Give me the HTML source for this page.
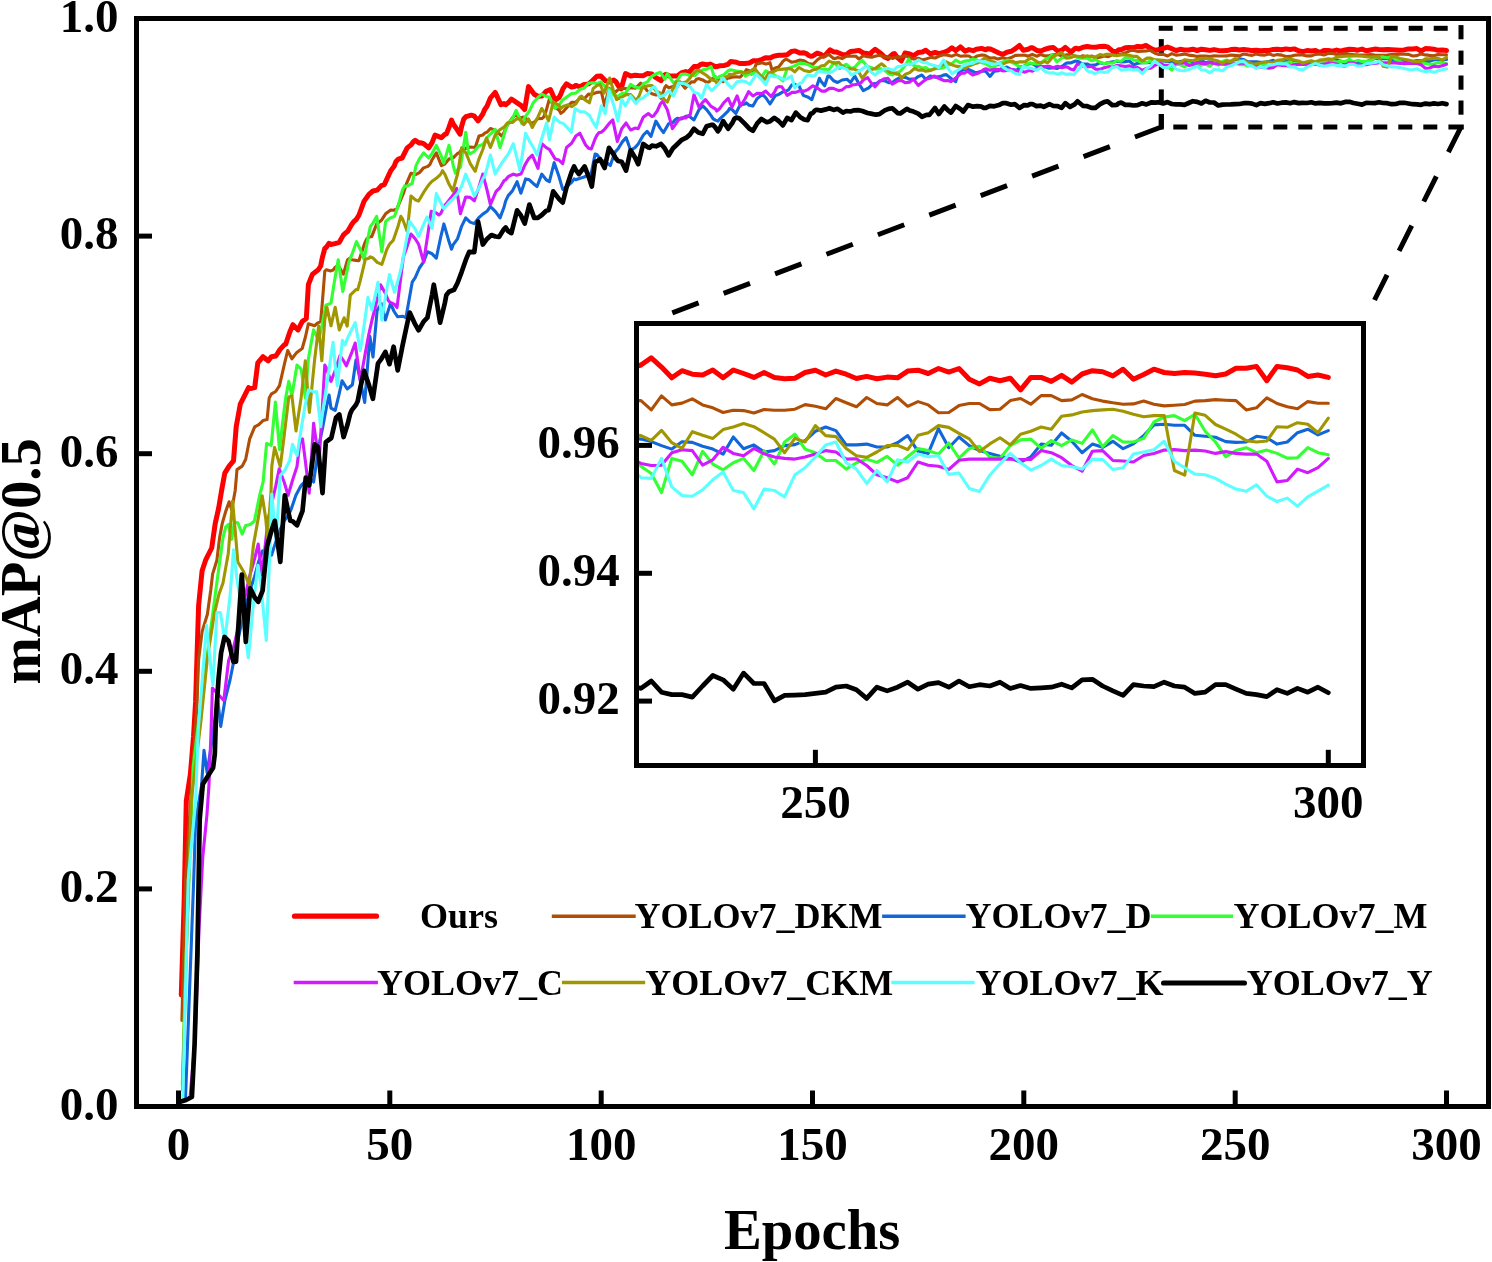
<!DOCTYPE html><html><head><meta charset="utf-8"><title>mAP@0.5 vs Epochs</title><style>html,body{margin:0;padding:0;background:#fff;}svg{display:block;}text{font-family:'Liberation Serif','Times New Roman',serif;font-weight:bold;fill:#000;}</style></head><body>
<svg width="1492" height="1262" viewBox="0 0 1492 1262">
<rect x="0" y="0" width="1492" height="1262" fill="#fff"/>
<defs><clipPath id="cm"><rect x="139" y="21" width="1347" height="1083"/></clipPath><clipPath id="ci"><rect x="639" y="326" width="722" height="437"/></clipPath></defs>
<line x1="1158.7" y1="28.3" x2="1172.7" y2="28.3" stroke="#000" stroke-width="5"/>
<line x1="1183.7" y1="28.3" x2="1197.7" y2="28.3" stroke="#000" stroke-width="5"/>
<line x1="1208.7" y1="28.3" x2="1222.7" y2="28.3" stroke="#000" stroke-width="5"/>
<line x1="1233.7" y1="28.3" x2="1247.7" y2="28.3" stroke="#000" stroke-width="5"/>
<line x1="1258.7" y1="28.3" x2="1272.7" y2="28.3" stroke="#000" stroke-width="5"/>
<line x1="1283.7" y1="28.3" x2="1297.7" y2="28.3" stroke="#000" stroke-width="5"/>
<line x1="1308.7" y1="28.3" x2="1322.7" y2="28.3" stroke="#000" stroke-width="5"/>
<line x1="1333.7" y1="28.3" x2="1347.7" y2="28.3" stroke="#000" stroke-width="5"/>
<line x1="1358.7" y1="28.3" x2="1372.7" y2="28.3" stroke="#000" stroke-width="5"/>
<line x1="1383.7" y1="28.3" x2="1397.7" y2="28.3" stroke="#000" stroke-width="5"/>
<line x1="1408.7" y1="28.3" x2="1422.7" y2="28.3" stroke="#000" stroke-width="5"/>
<line x1="1433.7" y1="28.3" x2="1447.7" y2="28.3" stroke="#000" stroke-width="5"/>
<line x1="1461" y1="25.1" x2="1461" y2="39.3" stroke="#000" stroke-width="5"/>
<line x1="1461" y1="50.6" x2="1461" y2="64.8" stroke="#000" stroke-width="5"/>
<line x1="1461" y1="75.5" x2="1461" y2="89.7" stroke="#000" stroke-width="5"/>
<line x1="1461" y1="100.5" x2="1461" y2="114.7" stroke="#000" stroke-width="5"/>
<line x1="1173.3" y1="127" x2="1187.3" y2="127" stroke="#000" stroke-width="5"/>
<line x1="1198.3" y1="127" x2="1212.3" y2="127" stroke="#000" stroke-width="5"/>
<line x1="1223.3" y1="127" x2="1237.3" y2="127" stroke="#000" stroke-width="5"/>
<line x1="1248.3" y1="127" x2="1262.3" y2="127" stroke="#000" stroke-width="5"/>
<line x1="1273.3" y1="127" x2="1287.3" y2="127" stroke="#000" stroke-width="5"/>
<line x1="1298.3" y1="127" x2="1312.3" y2="127" stroke="#000" stroke-width="5"/>
<line x1="1323.3" y1="127" x2="1337.3" y2="127" stroke="#000" stroke-width="5"/>
<line x1="1348.3" y1="127" x2="1362.3" y2="127" stroke="#000" stroke-width="5"/>
<line x1="1373.3" y1="127" x2="1387.3" y2="127" stroke="#000" stroke-width="5"/>
<line x1="1398.3" y1="127" x2="1412.3" y2="127" stroke="#000" stroke-width="5"/>
<line x1="1423.3" y1="127" x2="1437.3" y2="127" stroke="#000" stroke-width="5"/>
<line x1="1448.4" y1="127" x2="1463.8" y2="127" stroke="#000" stroke-width="5"/>
<line x1="1161.3" y1="39.1" x2="1161.3" y2="52.9" stroke="#000" stroke-width="5"/>
<line x1="1161.3" y1="64.0" x2="1161.3" y2="77.8" stroke="#000" stroke-width="5"/>
<line x1="1161.3" y1="89.4" x2="1161.3" y2="103.2" stroke="#000" stroke-width="5"/>
<line x1="1161.3" y1="114.0" x2="1161.3" y2="127.8" stroke="#000" stroke-width="5"/>
<line x1="1161.3" y1="114" x2="1161.3" y2="129.5" stroke="#000" stroke-width="5"/>
<line x1="1161.3" y1="127" x2="672.3" y2="312.9" stroke="#000" stroke-width="5" stroke-dasharray="28.2 26.8"/>
<line x1="1461" y1="127" x2="1374.5" y2="300" stroke="#000" stroke-width="5" stroke-dasharray="28.2 26.9"/>
<g clip-path="url(#cm)" fill="none" stroke-linejoin="round" stroke-linecap="round">
<polyline points="181.3,994.9 184.2,900.2 186.3,800.8 190.4,774.0 193.5,736.9 195.6,701.9 196.9,659.9 198.6,605.5 202.1,570.7 205.6,560.2 211.7,548.0 215.2,523.6 218.7,507.9 222.2,487.0 224.8,473.1 229.1,466.1 233.5,460.9 236.2,426.8 240.3,404.1 248.6,387.6 250.4,388.6 254.7,387.6 257.8,362.9 263.0,356.7 268.1,360.8 271.5,356.7 275.7,356.0 277.4,353.6 279.9,349.6 284.2,344.9 285.7,344.3 289.8,332.0 292.9,324.7 298.0,329.9 302.2,321.6 306.3,318.6 308.4,284.5 312.5,274.2 318.0,270.1 320.7,266.0 322.2,258.2 324.8,248.5 326.4,247.2 329.0,243.3 330.7,244.5 334.9,243.6 339.3,242.3 343.3,235.1 345.5,233.0 347.6,231.5 351.8,224.2 353.9,221.4 356.0,219.8 359.0,215.0 364.1,201.1 368.7,194.7 372.9,191.0 377.2,190.1 381.4,185.6 384.3,184.6 390.7,170.7 394.1,166.3 395.8,161.8 398.3,159.1 402.1,158.0 407.2,147.9 411.0,144.9 413.5,141.5 415.2,140.4 419.4,143.1 421.1,142.8 423.6,143.6 428.7,147.9 432.1,142.6 435.0,135.2 441.4,137.7 444.8,134.4 446.4,133.9 449.0,127.4 451.5,120.0 453.2,123.9 456.0,128.0 460.0,134.2 461.7,126.0 463.8,119.0 465.9,116.7 471.4,115.2 474.4,116.2 478.1,120.9 482.8,114.0 484.7,109.5 487.0,106.2 490.4,98.0 495.2,92.3 500.9,104.7 504.0,103.5 505.7,104.7 508.2,102.8 511.4,99.0 517.1,102.8 520.9,105.3 524.7,109.5 528.5,86.6 534.2,94.2 537.8,96.2 541.8,96.1 546.2,91.3 550.4,89.5 555.1,100.0 558.9,97.7 560.8,94.2 563.1,88.4 566.5,83.8 571.6,87.1 574.1,86.6 575.8,85.4 580.0,86.9 583.6,84.7 588.5,83.9 591.3,81.8 595.1,78.0 596.9,76.3 600.8,76.1 605.2,80.6 609.6,81.9 613.9,80.1 616.0,81.8 618.1,85.5 621.1,88.8 625.5,73.6 630.6,76.1 635.0,75.2 638.2,75.5 643.4,75.7 647.1,73.6 651.9,74.0 654.7,76.8 661.0,80.6 664.6,74.9 666.1,74.2 668.8,75.7 673.7,76.1 677.3,76.1 681.3,73.0 685.7,71.6 688.9,72.3 694.0,66.6 698.4,66.4 700.3,64.7 702.6,64.0 706.8,64.7 710.4,64.1 715.3,66.8 716.8,66.6 719.5,65.8 724.4,65.4 728.0,64.3 730.7,61.6 736.4,62.2 739.6,63.5 744.9,63.5 749.1,63.1 750.7,62.2 753.3,60.8 757.6,60.8 761.4,59.5 766.0,57.7 770.2,58.0 772.2,56.8 774.5,56.0 778.7,55.3 782.9,55.2 787.1,54.8 791.4,51.5 795.2,50.9 800.0,53.1 804.1,52.8 806.5,53.6 808.3,55.2 810.8,56.3 812.5,56.1 817.2,53.1 821.0,54.4 823.6,56.3 825.2,55.2 830.1,49.8 833.6,51.9 836.5,52.0 843.0,54.7 846.3,54.8 848.3,53.1 850.5,51.5 854.8,51.0 859.0,50.4 863.2,53.0 867.5,53.4 869.8,55.2 871.7,52.2 875.1,49.3 881.6,54.1 884.4,56.9 888.0,58.4 892.8,54.0 894.4,53.6 897.0,57.1 901.3,61.0 905.0,53.0 909.7,53.9 913.5,55.8 918.2,52.5 922.4,52.0 925.7,50.2 930.3,53.9 935.1,52.5 939.3,53.7 943.5,52.5 948.2,50.6 951.9,47.8 955.7,50.6 960.4,46.9 965.1,51.1 968.9,49.6 973.1,50.7 976.3,49.2 981.6,48.4 985.8,49.8 987.6,48.8 990.0,48.9 993.2,50.2 998.9,53.0 1002.6,54.4 1007.3,52.1 1011.2,51.3 1013.9,49.7 1019.5,45.5 1023.2,50.2 1028.1,49.3 1030.6,47.8 1032.3,47.7 1037.2,50.6 1040.7,51.0 1043.8,49.7 1049.2,48.0 1053.2,47.4 1057.8,51.1 1061.9,50.1 1065.3,47.4 1071.0,52.1 1074.6,48.8 1076.6,48.3 1078.8,49.0 1083.0,47.2 1087.2,46.5 1090.7,46.9 1095.7,47.2 1100.1,46.4 1104.1,46.3 1107.6,46.9 1113.2,51.6 1116.8,51.4 1118.8,49.7 1121.1,49.8 1125.3,47.8 1129.2,47.4 1133.7,47.7 1137.6,46.4 1142.2,46.7 1146.0,45.5 1151.7,48.8 1154.9,50.2 1158.2,49.7 1163.3,48.3 1167.5,47.1 1171.8,48.7 1176.0,50.5 1180.2,49.3 1184.5,49.9 1188.7,50.0 1192.9,49.2 1197.1,50.5 1201.4,49.2 1205.6,49.8 1209.8,50.4 1214.0,49.6 1218.3,50.4 1222.5,50.7 1226.7,50.6 1230.9,49.6 1235.2,49.2 1239.4,50.0 1243.6,49.4 1247.9,49.9 1252.1,50.6 1256.3,50.3 1260.5,50.7 1264.8,50.4 1269.0,50.5 1273.2,49.4 1277.4,49.2 1281.7,49.8 1285.9,48.9 1290.1,49.5 1294.3,48.9 1298.6,50.8 1302.8,51.6 1307.0,50.6 1311.3,51.0 1315.5,50.6 1319.7,52.6 1323.9,50.4 1328.2,50.4 1332.4,51.1 1336.6,50.1 1340.8,51.2 1345.1,49.9 1349.3,49.3 1353.5,49.5 1357.7,50.2 1362.0,49.1 1366.2,50.8 1370.4,50.0 1374.7,49.1 1378.9,49.6 1383.1,49.8 1387.3,49.6 1391.6,49.7 1395.8,49.9 1400.0,50.2 1404.2,49.9 1408.5,48.9 1412.7,48.9 1416.9,48.6 1421.1,51.0 1425.4,48.6 1429.6,48.8 1433.8,49.2 1438.1,50.3 1442.3,50.0 1446.5,50.4" stroke="#FF0000" stroke-width="5"/>
<polyline points="181.9,1020.4 185.5,880.0 190.7,800.0 197.0,703.4 198.6,659.9 202.1,631.6 207.4,614.2 210.8,589.8 212.6,574.1 216.9,560.2 219.6,537.6 222.2,523.6 225.7,511.4 229.1,501.8 231.7,509.7 235.2,490.5 237.0,469.6 242.2,466.1 245.7,459.2 249.6,439.2 254.7,426.8 258.8,424.6 263.0,420.6 267.1,419.6 269.2,397.9 271.5,393.8 273.3,392.8 275.7,391.5 279.5,385.6 284.2,365.0 287.7,350.5 291.9,358.8 296.8,352.4 302.2,348.5 305.3,337.5 308.4,323.7 314.5,325.8 318.0,322.8 320.7,321.6 322.2,304.1 324.8,271.1 326.4,269.8 330.7,270.9 333.1,270.1 334.9,267.6 337.2,266.0 339.1,267.1 343.4,274.2 347.5,259.8 350.1,258.1 351.8,259.8 356.0,260.4 359.0,260.6 364.5,243.7 366.6,239.1 368.7,237.2 371.7,236.6 376.7,223.9 381.4,220.3 385.6,213.8 390.7,210.0 394.1,210.2 397.0,208.7 403.4,193.5 406.7,183.1 411.0,173.2 416.0,174.5 419.4,172.6 423.6,167.9 427.9,166.4 430.0,164.3 432.1,159.7 436.3,152.9 441.4,165.6 444.8,164.0 449.0,159.1 453.2,157.8 457.5,153.5 459.1,152.9 461.7,149.4 464.2,147.9 465.9,148.5 470.1,147.0 475.2,147.5 479.0,136.1 482.8,135.1 484.7,133.2 487.0,132.2 490.4,128.5 495.5,130.4 499.7,134.2 501.8,136.1 504.0,132.5 507.6,124.7 512.4,117.8 515.2,115.2 520.9,117.9 522.8,117.1 525.1,117.7 530.4,122.8 533.5,122.8 537.8,118.7 542.0,118.4 543.7,117.1 546.2,110.6 549.4,99.0 555.1,107.6 558.9,109.8 560.8,113.3 563.1,111.7 568.4,105.7 571.6,102.4 575.8,102.0 577.9,100.0 580.0,97.9 584.3,98.7 588.5,94.1 591.3,94.5 596.9,92.4 601.4,92.0 604.6,105.9 609.0,88.2 613.9,92.6 615.4,92.0 618.1,89.7 623.0,88.2 626.5,88.8 630.8,87.7 635.6,88.2 640.7,83.1 643.4,85.6 647.1,90.7 651.9,93.7 656.1,95.0 658.5,94.5 661.0,98.3 664.6,87.9 666.1,85.6 668.8,87.7 673.0,86.4 676.2,88.2 680.0,81.8 685.1,88.2 691.4,81.8 694.2,82.0 696.5,79.3 698.4,78.6 702.6,79.9 706.8,82.4 709.2,81.8 711.1,79.6 715.5,76.8 719.5,80.3 723.1,81.8 728.0,78.0 729.5,78.0 732.2,77.1 736.4,76.8 740.0,77.2 744.9,72.1 746.4,69.7 749.1,70.8 751.8,74.0 753.3,71.3 756.1,64.3 761.8,62.8 766.0,64.1 770.0,62.7 772.2,70.8 774.5,68.2 778.7,66.9 780.8,64.3 782.9,61.3 786.1,59.0 791.5,62.2 795.6,61.5 800.0,60.0 804.1,60.7 808.3,63.6 812.9,64.3 817.2,60.0 821.0,57.2 825.2,56.4 826.9,54.7 829.4,54.9 833.6,58.5 835.4,58.4 837.9,57.6 842.1,58.6 846.3,56.2 850.5,56.1 855.8,56.3 859.0,59.0 863.3,55.7 867.5,56.8 871.7,57.2 875.1,56.3 879.4,55.2 885.8,57.3 888.6,57.1 892.3,58.4 897.0,56.9 901.3,57.1 905.0,55.8 909.7,57.2 911.6,58.6 913.9,59.1 918.2,58.3 922.4,59.9 925.7,59.1 930.9,57.4 935.1,58.0 938.8,56.3 943.5,54.8 946.3,54.9 952.0,56.2 956.2,54.4 960.4,56.2 965.1,55.8 968.9,56.0 971.6,57.7 973.1,58.3 977.3,55.9 981.6,55.1 984.8,55.3 990.0,58.1 994.3,57.7 997.9,59.1 1002.7,57.7 1006.9,58.9 1012.0,57.2 1015.4,55.4 1019.5,55.3 1025.0,55.3 1028.1,56.2 1032.3,54.3 1036.5,56.2 1040.7,54.5 1045.0,56.0 1049.2,55.5 1053.2,54.9 1057.7,54.4 1061.9,56.2 1066.1,54.9 1070.3,54.9 1075.0,56.0 1078.8,57.3 1083.0,55.7 1087.2,57.6 1091.5,56.0 1095.7,57.8 1100.1,57.2 1104.1,56.0 1108.4,56.7 1112.6,54.6 1116.8,55.5 1118.8,54.4 1121.1,54.3 1126.3,52.5 1129.5,50.8 1132.9,50.2 1138.0,51.4 1142.3,51.1 1146.4,51.0 1149.8,50.2 1154.9,53.2 1158.2,54.4 1163.3,54.4 1167.5,56.0 1171.8,53.6 1176.0,55.1 1180.2,54.8 1184.5,54.1 1188.7,55.1 1192.9,55.6 1197.1,56.4 1201.4,56.0 1205.6,56.1 1209.8,56.5 1214.0,55.9 1218.3,56.0 1222.5,56.0 1226.7,55.9 1230.9,55.1 1235.2,55.4 1239.4,55.8 1243.6,54.0 1247.9,54.8 1252.1,55.4 1256.3,53.9 1260.5,54.9 1264.8,55.1 1269.0,53.9 1273.2,55.4 1277.4,54.6 1281.7,55.1 1285.9,56.5 1290.1,56.4 1294.3,55.2 1298.6,54.9 1302.8,54.9 1307.0,55.9 1311.3,55.9 1315.5,54.4 1319.7,54.0 1323.9,55.0 1328.2,53.5 1332.4,53.5 1336.6,54.4 1340.8,54.3 1345.1,53.4 1349.3,54.1 1353.5,54.5 1357.7,54.8 1362.0,55.0 1366.2,55.0 1370.4,54.5 1374.7,55.0 1378.9,55.3 1383.1,55.2 1387.3,55.1 1391.6,54.5 1395.8,54.4 1400.0,54.2 1404.2,54.3 1408.5,54.4 1412.7,56.0 1416.9,55.6 1421.1,53.9 1425.4,54.9 1429.6,55.4 1433.8,55.8 1438.1,54.6 1442.3,54.8 1446.5,54.8" stroke="#B04E05" stroke-width="3.1"/>
<polyline points="185.5,1098.0 193.7,880.0 195.6,821.4 201.5,785.8 204.0,750.3 207.2,773.1 212.0,740.0 217.8,700.0 220.7,726.4 224.9,700.3 230.0,680.0 240.0,630.0 250.0,590.0 254.6,576.5 258.8,561.0 262.6,550.8 267.3,554.1 271.5,555.2 275.7,542.1 280.0,530.0 284.2,520.9 288.4,515.4 291.4,508.6 295.9,495.3 301.1,485.6 305.3,481.1 307.0,477.6 309.5,478.1 313.6,482.0 318.0,451.9 320.0,440.0 322.2,430.0 326.4,407.5 329.1,395.0 331.0,408.2 335.2,410.3 339.1,394.2 342.1,380.7 347.2,389.0 352.4,384.8 356.0,360.0 360.2,380.0 364.7,402.4 369.9,336.4 373.0,357.0 377.1,310.6 381.2,303.4 385.4,319.9 390.5,303.4 394.1,311.5 397.7,316.8 402.5,316.2 405.9,317.7 412.2,282.2 415.2,277.7 419.4,268.0 423.6,261.9 427.4,251.8 432.1,253.8 436.3,258.1 440.6,237.7 443.9,223.9 449.0,241.6 451.5,249.2 453.2,244.6 457.5,238.8 459.1,234.0 461.7,226.1 465.7,217.9 470.1,222.1 474.3,223.6 478.6,217.8 482.8,214.1 487.0,211.3 490.4,206.5 495.5,211.7 500.0,217.9 504.0,207.2 505.7,200.8 508.2,195.6 512.4,190.9 517.1,181.7 520.9,193.2 525.6,178.9 529.3,179.8 533.5,183.7 537.0,186.5 541.8,174.1 546.2,179.8 549.4,181.7 554.2,162.7 558.9,176.3 562.7,189.4 567.4,186.0 571.6,182.4 574.1,178.9 575.8,179.8 580.0,178.3 584.3,177.0 588.5,175.0 591.3,173.1 595.1,154.1 596.9,154.5 601.2,160.2 605.2,161.7 610.3,165.5 613.9,154.9 615.4,151.6 618.1,148.7 622.3,141.9 626.1,137.6 630.6,150.3 635.0,147.6 638.2,144.0 643.4,135.0 647.1,131.3 650.9,136.4 655.9,121.1 660.3,128.4 663.5,132.6 668.6,123.7 673.0,122.5 674.9,119.9 677.3,118.2 681.5,119.0 685.7,116.4 688.9,116.1 694.0,119.9 699.0,109.7 702.8,105.9 706.8,109.9 711.1,115.7 713.0,118.6 715.3,120.1 718.0,121.1 719.5,119.1 723.7,115.3 728.0,111.2 729.5,108.5 732.2,109.6 735.8,113.5 740.0,105.1 744.9,103.9 746.4,102.9 749.1,105.2 752.9,106.1 757.2,98.6 762.5,94.3 766.0,98.0 770.0,104.0 775.4,95.4 778.7,94.4 782.9,91.9 788.3,90.1 791.4,85.5 793.6,83.6 795.6,85.1 799.0,85.8 803.3,95.4 808.3,97.3 811.8,99.7 815.1,90.1 816.7,86.6 819.4,78.3 821.0,81.3 824.7,85.8 827.9,76.1 829.4,76.1 833.6,80.8 837.6,82.5 842.1,80.0 847.2,79.3 850.5,82.5 854.8,76.1 859.0,83.9 863.3,90.6 868.7,87.9 871.7,84.9 874.1,83.6 875.9,84.0 880.1,80.8 883.7,80.4 888.6,82.6 892.3,82.5 896.6,79.3 899.4,77.9 901.3,76.9 905.5,77.4 909.7,79.4 915.3,78.8 918.2,76.6 921.9,75.0 925.7,79.3 930.3,76.0 935.1,77.2 940.7,76.4 943.5,75.1 946.3,74.6 952.0,79.3 955.7,81.6 959.4,71.3 965.1,69.4 968.9,69.6 974.5,72.2 977.3,72.5 981.6,71.1 985.7,71.3 990.0,76.4 994.2,71.3 998.5,70.6 1002.7,67.8 1005.4,67.5 1006.9,67.0 1011.2,69.6 1016.7,70.3 1019.6,67.6 1021.4,66.6 1023.8,66.2 1028.1,64.0 1029.8,63.8 1032.3,63.7 1037.2,66.6 1040.7,67.5 1045.0,66.8 1049.2,68.3 1053.4,67.7 1056.9,68.5 1061.9,66.4 1066.1,63.2 1068.2,62.8 1070.3,63.0 1075.7,61.0 1078.8,61.7 1082.2,63.8 1087.2,64.0 1088.8,64.7 1091.5,65.4 1095.7,64.9 1099.9,62.7 1104.1,63.8 1107.6,62.8 1113.2,61.9 1116.8,61.3 1121.1,61.9 1125.3,61.6 1129.2,61.0 1133.8,64.7 1138.0,63.2 1142.2,62.8 1147.0,62.8 1150.6,62.5 1154.5,60.0 1163.3,61.0 1167.5,61.4 1171.8,62.0 1176.0,62.7 1180.2,61.4 1184.5,61.5 1188.7,62.2 1192.9,62.7 1197.1,63.5 1201.4,60.6 1205.6,62.6 1209.8,61.9 1214.0,63.1 1218.3,62.9 1222.5,62.0 1226.7,61.9 1230.9,61.2 1235.2,59.6 1239.4,58.9 1243.6,59.5 1247.9,61.9 1252.1,61.9 1256.3,61.8 1260.5,62.3 1264.8,62.3 1269.0,61.6 1273.2,60.3 1277.4,63.0 1281.7,63.4 1285.9,59.2 1290.1,62.4 1294.3,60.6 1298.6,62.0 1302.8,62.9 1307.0,63.4 1311.3,63.9 1315.5,64.2 1319.7,64.9 1323.9,64.0 1328.2,61.8 1332.4,62.0 1336.6,59.9 1340.8,61.3 1345.1,63.3 1349.3,61.8 1353.5,62.3 1357.7,61.3 1362.0,62.6 1366.2,61.8 1370.4,60.3 1374.7,58.5 1378.9,58.4 1383.1,58.6 1387.3,58.6 1391.6,60.3 1395.8,60.5 1400.0,60.6 1404.2,61.4 1408.5,61.5 1412.7,61.4 1416.9,60.5 1421.1,60.7 1425.4,61.8 1429.6,61.4 1433.8,59.9 1438.1,59.3 1442.3,60.2 1446.5,59.5" stroke="#1166D9" stroke-width="3.1"/>
<polyline points="182.3,1085.0 186.0,960.0 193.2,766.8 200.0,710.0 207.4,654.3 216.1,588.1 223.0,537.6 225.7,527.1 228.3,524.5 231.7,539.3 234.4,521.9 237.8,522.8 242.2,534.1 245.7,525.4 250.4,524.4 254.4,521.0 259.6,495.7 263.1,481.8 266.6,443.5 271.2,445.4 275.4,402.1 279.5,449.5 284.2,409.4 285.7,397.9 288.8,381.4 291.9,395.9 297.0,365.0 301.1,369.1 305.3,397.9 308.4,358.8 313.5,329.9 318.7,340.2 322.2,324.4 325.9,305.2 331.0,303.1 334.9,278.7 338.2,259.8 342.8,291.5 348.9,261.9 351.8,254.9 356.5,241.6 360.2,249.2 364.1,259.4 368.7,234.2 370.4,226.4 372.9,223.2 376.7,216.3 381.8,251.8 385.6,221.4 389.8,218.1 394.5,216.3 398.3,205.2 400.8,196.0 402.5,190.0 404.6,185.9 406.7,186.4 412.2,183.4 416.0,165.6 419.4,158.9 423.6,152.9 428.7,158.0 432.1,153.3 436.3,145.3 440.6,154.3 443.9,163.1 449.0,145.3 453.2,165.3 455.3,173.2 457.5,169.7 460.5,167.0 465.7,132.3 468.6,153.2 470.1,153.9 474.3,151.3 478.6,146.0 482.8,144.4 484.7,141.8 487.0,137.5 490.4,134.2 495.2,129.4 500.0,147.5 504.0,135.3 505.7,128.5 508.2,123.6 510.4,120.9 512.4,118.8 516.1,110.4 521.8,123.7 525.1,116.9 529.3,111.2 533.2,102.8 537.8,97.7 541.8,94.2 546.2,96.5 549.4,97.1 555.1,108.5 558.9,105.0 562.7,100.0 567.4,96.6 571.6,93.5 575.8,93.1 579.8,89.5 584.3,88.1 588.5,83.3 592.2,82.8 596.9,83.4 601.4,81.8 605.4,87.2 609.6,89.6 614.7,95.8 618.1,96.3 622.3,93.3 625.5,93.2 630.6,84.4 635.0,87.1 640.7,88.2 643.4,83.9 647.7,81.5 650.2,78.0 651.9,76.3 656.1,73.8 660.4,72.3 664.8,79.3 667.3,73.6 673.7,83.1 677.3,80.3 681.3,74.2 685.7,74.1 689.9,75.5 695.2,75.5 698.4,71.9 702.8,69.8 706.8,69.2 711.1,66.6 714.2,76.8 718.0,78.0 719.5,76.4 723.7,74.9 728.0,70.8 730.7,69.8 736.4,71.1 742.1,71.7 745.4,76.1 749.1,74.0 753.3,73.3 756.1,71.8 761.4,77.2 765.7,70.8 770.2,73.4 774.3,75.0 778.7,77.3 782.9,80.9 787.2,68.6 791.4,67.1 795.6,65.5 799.0,63.2 804.1,63.4 808.6,64.9 812.5,67.0 816.7,67.3 818.3,68.6 821.0,69.7 825.2,68.9 829.0,69.7 834.4,62.2 837.9,67.1 839.7,68.6 842.1,66.4 846.2,64.3 851.5,68.6 854.8,67.2 859.0,62.5 862.3,60.6 867.6,66.5 871.7,67.7 875.9,69.1 879.4,68.6 884.4,70.1 888.6,73.7 892.3,75.0 897.0,72.4 898.7,72.4 901.3,70.1 905.0,65.7 908.8,59.1 912.5,64.7 916.3,66.6 918.2,66.2 922.4,68.2 925.7,67.5 930.3,70.3 935.1,68.6 938.8,68.5 943.5,67.8 947.8,64.8 950.1,64.7 952.0,63.6 955.7,60.0 960.4,62.8 964.7,61.1 968.9,60.6 972.6,59.1 977.3,60.1 982.0,62.8 985.8,63.8 991.3,67.5 994.3,66.7 998.5,63.3 1002.6,61.9 1008.2,60.0 1011.2,62.2 1015.4,63.8 1017.6,65.7 1019.6,66.7 1023.2,67.1 1028.1,63.6 1030.6,62.8 1032.3,63.6 1036.5,63.9 1040.0,63.8 1045.0,59.6 1049.2,57.5 1052.2,54.9 1056.9,61.9 1061.6,58.1 1066.1,57.0 1070.3,57.2 1071.9,56.3 1074.6,56.1 1078.8,58.2 1083.2,58.1 1087.2,58.1 1091.5,60.7 1095.7,59.5 1098.2,61.0 1099.9,62.2 1104.8,63.8 1108.4,62.7 1112.6,63.2 1116.8,60.6 1118.8,61.0 1121.1,61.2 1125.3,57.9 1129.2,57.7 1133.7,60.1 1138.0,60.8 1142.3,62.8 1146.4,62.7 1150.6,60.9 1154.9,61.5 1158.2,60.0 1163.3,65.6 1167.5,66.8 1171.8,70.1 1176.0,64.2 1180.2,64.7 1184.5,67.0 1188.7,63.0 1192.9,65.2 1197.1,66.2 1201.4,65.0 1205.6,64.2 1209.8,66.3 1214.0,62.9 1218.3,65.2 1222.5,61.4 1226.7,60.1 1230.9,62.7 1235.2,63.3 1239.4,64.6 1243.6,64.6 1247.9,66.1 1252.1,65.0 1256.3,64.4 1260.5,64.9 1264.8,63.9 1269.0,65.4 1273.2,63.9 1277.4,62.5 1281.7,62.9 1285.9,63.5 1290.1,61.6 1294.3,64.2 1298.6,62.5 1302.8,62.2 1307.0,64.0 1311.3,64.2 1315.5,62.0 1319.7,61.1 1323.9,61.0 1328.2,62.5 1332.4,61.2 1336.6,62.0 1340.8,61.1 1345.1,61.7 1349.3,59.4 1353.5,62.2 1357.7,60.3 1362.0,61.4 1366.2,61.4 1370.4,60.8 1374.7,58.0 1378.9,57.2 1383.1,56.9 1387.3,57.8 1391.6,56.7 1395.8,59.6 1400.0,61.4 1404.2,63.9 1408.5,62.9 1412.7,62.4 1416.9,63.3 1421.1,62.8 1425.4,63.4 1429.6,64.2 1433.8,64.1 1438.1,62.4 1442.3,63.3 1446.5,63.6" stroke="#33FF33" stroke-width="3.1"/>
<polyline points="183.0,1100.0 190.0,1098.0 195.0,1040.0 199.0,930.0 202.8,856.5 206.9,815.3 209.0,784.3 211.0,732.8 212.4,688.0 223.8,700.5 228.6,660.5 233.8,646.3 240.0,620.0 249.3,577.4 254.6,558.9 258.2,544.1 262.0,575.0 268.0,520.0 271.5,504.5 275.7,486.1 279.2,468.7 284.2,482.2 288.1,495.3 292.6,480.0 297.0,466.5 300.1,441.2 302.5,438.8 305.3,460.6 309.2,493.1 313.6,423.3 319.1,462.1 322.2,410.4 324.8,365.0 326.4,368.0 331.0,381.4 334.9,371.3 340.0,355.7 343.3,360.3 346.3,365.8 351.8,352.3 355.2,343.0 360.3,381.0 365.3,353.1 368.7,334.9 372.0,320.0 377.2,299.6 380.5,284.7 385.6,293.8 388.0,300.0 389.8,302.2 394.1,304.1 397.0,307.5 403.4,256.8 406.7,247.9 411.0,234.0 415.2,238.7 418.6,244.2 423.6,261.9 427.9,234.0 431.2,211.2 436.3,213.0 438.8,215.0 440.6,213.8 444.8,205.4 446.4,203.6 449.0,200.3 453.2,195.0 456.6,188.4 460.4,213.8 465.7,197.0 470.1,197.4 474.3,200.8 478.6,188.3 482.8,174.1 487.0,189.9 490.4,204.6 496.1,191.3 499.7,188.0 504.0,180.7 505.7,179.8 508.2,176.7 513.3,174.1 516.6,175.2 520.9,174.1 525.1,164.6 528.5,158.9 532.3,155.1 538.0,168.4 541.8,143.7 546.2,147.6 549.4,149.4 555.1,158.9 558.9,160.0 562.7,163.7 566.5,147.5 571.6,143.3 575.8,136.1 579.8,133.2 585.5,144.7 588.5,148.3 591.3,149.0 595.1,138.9 596.9,135.2 598.9,132.6 601.2,132.3 604.0,130.0 609.0,123.7 612.8,119.9 617.3,141.4 621.7,128.7 626.1,123.0 630.6,130.0 635.0,128.1 638.2,128.7 643.2,117.3 648.3,113.5 651.9,116.6 653.4,116.1 657.2,111.0 660.3,104.0 662.9,100.9 664.6,104.8 667.3,109.7 672.4,128.7 678.7,119.9 681.5,117.7 685.7,117.9 690.2,114.8 694.0,94.5 699.0,107.2 702.6,102.4 705.4,99.6 711.1,106.4 715.3,108.9 716.8,111.0 719.5,108.8 723.7,102.8 728.2,98.3 732.0,107.2 737.1,95.8 740.5,106.0 744.9,99.0 748.6,91.7 752.9,96.0 757.6,93.2 761.8,93.5 765.7,91.1 771.1,96.5 774.5,92.1 776.5,87.9 778.7,86.5 781.8,86.8 787.2,95.4 792.5,92.2 795.6,92.4 799.8,90.8 804.3,91.1 808.3,89.3 812.9,85.8 816.7,87.6 821.5,91.1 825.2,91.1 829.4,88.4 833.3,88.4 838.7,90.6 842.1,89.9 846.3,86.6 848.3,86.8 850.5,86.1 852.6,84.7 854.8,84.7 859.0,83.8 861.2,82.5 863.2,80.0 867.6,77.7 871.7,83.6 875.1,86.8 879.4,81.5 884.4,78.7 888.0,78.3 892.3,84.2 897.5,81.1 901.3,80.4 905.5,82.8 909.7,82.1 913.5,79.3 918.2,85.4 923.8,81.1 926.6,79.1 930.9,78.0 934.1,76.0 939.7,78.8 944.4,80.7 947.8,80.5 951.0,81.6 955.7,77.9 961.3,73.2 964.7,73.1 966.9,71.3 968.9,72.2 972.6,75.0 978.2,73.2 981.6,71.3 983.8,69.4 985.8,68.7 990.0,70.2 995.1,69.4 998.5,69.3 1002.7,70.9 1005.4,70.8 1006.9,70.2 1011.2,69.4 1015.7,70.3 1019.6,71.9 1021.4,71.3 1025.0,72.2 1028.1,70.8 1030.6,70.8 1032.3,71.2 1037.2,68.5 1040.7,66.4 1043.8,66.6 1049.2,66.2 1053.4,67.6 1056.0,66.6 1057.7,66.3 1061.9,67.8 1066.1,66.8 1068.2,67.5 1070.3,68.9 1073.8,69.9 1077.5,63.8 1083.0,66.2 1087.2,66.6 1088.8,66.6 1091.5,66.3 1095.7,69.3 1100.1,69.4 1104.1,67.8 1109.5,66.6 1112.6,67.2 1116.8,65.4 1120.7,65.7 1125.3,66.6 1129.5,65.9 1133.7,67.7 1137.6,67.5 1142.3,70.3 1146.4,68.3 1150.6,68.1 1154.5,65.7 1160.1,62.8 1163.3,65.1 1167.5,65.4 1171.8,65.4 1176.0,63.3 1180.2,62.8 1184.5,62.9 1188.7,65.4 1192.9,64.5 1197.1,62.3 1201.4,63.4 1205.6,63.8 1209.8,62.5 1214.0,63.5 1218.3,64.0 1222.5,64.2 1226.7,64.4 1230.9,64.0 1235.2,63.5 1239.4,62.9 1243.6,63.1 1247.9,64.4 1252.1,64.3 1256.3,65.4 1260.5,67.0 1264.8,67.5 1269.0,68.2 1273.2,67.5 1277.4,64.8 1281.7,65.4 1285.9,65.6 1290.1,66.1 1294.3,64.5 1298.6,64.4 1302.8,64.4 1307.0,64.4 1311.3,64.4 1315.5,64.4 1319.7,64.4 1323.9,64.4 1328.2,62.9 1332.4,63.3 1336.6,64.1 1340.8,65.4 1345.1,66.4 1349.3,63.0 1353.5,62.9 1357.7,64.6 1362.0,64.7 1366.2,64.8 1370.4,63.7 1374.7,63.4 1378.9,62.8 1383.1,62.7 1387.3,62.9 1391.6,62.8 1395.8,63.0 1400.0,63.4 1404.2,63.1 1408.5,63.4 1412.7,63.5 1416.9,63.5 1421.1,64.7 1425.4,68.2 1429.6,68.0 1433.8,66.1 1438.1,66.7 1442.3,65.8 1446.5,64.2" stroke="#D21AFF" stroke-width="3.1"/>
<polyline points="182.5,1090.0 186.0,960.0 191.3,800.0 200.8,722.4 207.4,657.8 214.3,614.2 218.7,595.1 223.0,582.9 228.3,553.2 232.6,501.0 235.2,530.6 237.8,562.0 243.1,570.7 249.2,584.6 253.5,544.5 257.9,520.1 262.2,495.7 265.7,518.4 267.5,537.6 271.0,492.3 271.8,466.1 274.6,447.6 280.3,466.5 284.2,435.6 288.8,396.9 291.9,395.9 296.0,430.9 301.1,397.9 305.3,360.8 309.4,412.4 314.5,360.8 318.7,325.8 321.8,360.8 324.8,319.6 326.9,307.2 331.0,325.8 335.2,307.2 339.3,329.9 344.1,317.8 347.2,326.1 350.3,295.2 353.4,292.1 356.0,289.5 357.7,289.8 360.2,280.8 365.3,259.4 368.7,258.2 370.4,256.8 372.9,257.9 377.2,262.4 381.8,264.4 386.9,249.2 389.8,243.8 393.2,240.4 398.3,225.4 400.8,216.3 402.5,218.8 407.2,231.5 411.0,196.0 415.2,199.7 418.6,201.1 423.6,192.4 427.9,186.0 430.0,183.4 432.1,181.2 436.3,178.3 440.6,174.3 442.6,170.7 444.8,174.2 449.0,184.1 452.8,191.0 457.8,173.2 461.6,147.9 465.9,152.9 467.6,157.0 470.1,163.3 475.2,171.3 478.6,159.9 482.8,149.5 486.6,138.0 490.4,147.5 495.2,135.1 499.7,129.8 504.0,127.2 507.6,122.8 512.4,122.5 516.6,118.9 519.0,119.0 520.9,120.3 523.7,124.7 528.5,119.0 532.3,127.5 537.8,117.2 541.8,108.5 546.2,115.7 548.5,120.9 550.4,113.7 553.2,101.8 558.9,105.3 560.8,108.5 563.1,106.5 567.4,104.9 571.6,106.7 576.0,103.8 580.0,96.9 581.7,96.1 584.3,99.4 589.4,102.8 593.2,88.5 596.9,85.6 600.1,84.4 604.0,93.2 609.7,78.0 613.9,92.1 616.6,99.6 621.7,97.1 626.5,94.6 630.6,94.5 635.0,99.3 636.9,99.6 639.2,95.8 642.0,88.2 647.7,85.8 652.1,85.6 656.1,91.1 660.3,93.0 664.6,100.1 667.3,102.1 673.0,88.4 676.2,81.8 681.5,83.3 686.4,81.8 689.9,78.1 692.7,74.2 696.5,70.4 698.4,70.4 702.6,72.9 706.6,75.5 711.1,79.5 715.3,81.0 716.8,83.1 719.5,81.9 723.7,77.5 728.0,76.3 729.5,74.2 732.2,74.7 735.8,73.0 740.7,72.0 745.4,72.9 749.1,71.9 753.3,68.9 755.0,68.6 757.6,72.2 761.8,76.7 764.7,79.3 769.0,72.9 773.2,71.8 777.5,69.7 782.9,69.1 788.3,68.6 791.4,69.2 794.7,71.8 799.0,67.5 804.1,70.5 809.7,71.8 812.5,70.1 816.7,69.2 821.0,66.0 824.7,65.4 829.0,61.1 834.4,63.2 838.7,62.2 842.1,66.2 844.0,67.0 846.3,68.7 849.4,68.6 854.8,69.3 858.0,70.8 862.3,78.3 868.7,69.7 871.7,69.6 875.1,68.6 881.6,63.8 884.4,65.9 888.6,71.4 890.1,72.4 892.8,72.5 897.0,74.2 898.7,74.0 901.3,77.9 905.5,74.3 909.7,72.6 914.4,68.5 918.2,70.2 922.4,69.9 925.7,71.3 930.9,70.4 935.0,68.5 940.7,65.7 943.5,64.5 946.3,61.9 952.0,64.9 955.7,66.1 960.4,66.9 965.1,68.5 968.9,66.0 974.5,63.8 977.3,63.1 981.6,60.2 984.8,58.1 990.0,61.0 994.3,61.9 998.5,64.7 1001.7,64.7 1006.9,62.2 1012.0,61.0 1015.4,62.6 1017.6,62.4 1019.6,61.8 1025.0,61.9 1028.1,59.5 1031.6,58.1 1037.2,61.9 1040.7,62.9 1045.0,61.5 1047.5,62.8 1049.2,61.2 1052.2,57.2 1057.7,54.1 1061.6,52.5 1066.3,58.1 1070.3,57.8 1074.6,56.0 1077.5,56.3 1083.0,57.1 1087.2,55.8 1090.7,56.7 1095.7,56.9 1099.9,54.5 1104.1,55.4 1105.7,54.4 1108.4,54.2 1114.1,55.3 1116.8,55.7 1121.1,54.9 1125.3,54.9 1129.2,55.3 1133.7,56.4 1136.7,56.3 1142.3,61.0 1147.0,58.1 1150.6,58.1 1154.9,60.0 1158.2,60.0 1163.3,60.3 1167.5,61.1 1171.8,59.4 1176.0,61.6 1180.2,62.5 1184.5,59.7 1188.7,60.3 1192.9,60.8 1197.1,59.3 1201.4,58.9 1205.6,58.3 1209.8,58.8 1214.0,59.9 1218.3,61.0 1222.5,63.3 1226.7,60.8 1230.9,61.4 1235.2,58.6 1239.4,60.3 1243.6,60.5 1247.9,62.5 1252.1,63.8 1256.3,64.0 1260.5,63.1 1264.8,62.0 1269.0,62.0 1273.2,62.7 1277.4,60.3 1281.7,59.9 1285.9,58.6 1290.1,59.0 1294.3,60.0 1298.6,60.9 1302.8,63.1 1307.0,61.8 1311.3,60.7 1315.5,61.9 1319.7,60.1 1323.9,59.6 1328.2,58.9 1332.4,59.3 1336.6,57.1 1340.8,56.8 1345.1,56.3 1349.3,56.1 1353.5,56.0 1357.7,55.9 1362.0,56.2 1366.2,56.7 1370.4,57.1 1374.7,56.9 1378.9,56.9 1383.1,66.3 1387.3,67.1 1391.6,56.5 1395.8,56.9 1400.0,58.5 1404.2,59.3 1408.5,60.1 1412.7,61.2 1416.9,61.4 1421.1,61.3 1425.4,58.8 1429.6,58.9 1433.8,58.2 1438.1,58.4 1442.3,59.9 1446.5,57.4" stroke="#A09600" stroke-width="3.1"/>
<polyline points="182.8,1098.0 188.2,880.0 195.7,800.0 198.3,728.7 203.4,665.4 206.5,625.0 210.0,660.0 212.9,685.0 216.9,612.5 220.4,612.5 224.8,640.3 230.0,596.8 233.5,549.8 237.0,579.4 242.0,610.0 248.3,657.8 250.4,636.6 252.7,610.7 254.6,593.1 257.9,565.4 261.4,588.1 263.0,606.8 266.3,640.5 270.1,544.5 271.8,494.0 276.0,540.0 280.3,475.4 285.0,470.0 289.8,460.2 292.5,444.3 297.0,455.4 302.2,422.7 305.3,404.6 308.4,389.7 313.8,391.9 316.6,391.8 320.7,426.8 322.2,414.9 326.0,390.0 330.7,357.8 333.1,342.3 334.9,362.8 337.2,385.6 339.1,369.9 342.4,340.2 345.0,345.0 347.6,338.1 351.8,329.3 355.2,322.7 360.3,350.6 364.5,322.8 367.9,297.4 372.0,310.0 378.0,282.2 381.8,320.2 385.6,295.8 389.4,274.6 394.5,292.3 398.3,279.3 400.8,269.5 402.5,261.6 406.7,238.2 409.7,221.4 415.2,229.2 418.6,236.6 423.6,224.4 427.1,217.0 432.1,228.4 436.3,193.5 440.6,202.6 443.9,208.7 449.0,202.5 452.0,200.0 457.5,193.8 460.0,189.4 461.7,185.9 465.7,174.1 470.1,184.8 474.3,196.0 478.6,188.6 482.8,179.0 484.7,176.0 487.0,168.1 490.4,155.1 495.2,174.1 499.7,166.3 504.7,158.9 508.2,154.1 513.3,143.7 516.6,156.5 519.9,170.3 525.6,133.2 529.3,140.9 533.5,147.7 537.0,155.1 542.0,137.7 546.6,122.8 549.4,139.9 554.2,117.1 558.9,121.7 560.8,122.8 563.1,123.3 567.4,127.7 571.3,132.3 575.1,108.5 580.0,111.6 584.3,111.8 589.4,115.2 592.7,121.6 596.3,127.5 601.4,105.9 605.2,113.5 609.0,90.7 613.9,105.7 617.9,121.1 621.7,99.6 625.5,105.9 630.6,95.8 635.6,103.4 639.2,99.5 643.4,97.8 645.2,95.8 647.7,94.5 651.9,88.0 654.7,86.9 659.7,97.1 664.6,94.9 668.6,90.7 673.7,95.8 678.7,83.1 681.5,83.3 685.7,84.1 690.2,86.9 694.2,92.4 698.4,93.5 701.6,98.3 706.6,84.4 711.7,90.7 715.3,87.1 719.5,83.0 723.1,78.0 728.0,84.3 732.0,88.2 737.1,81.8 740.7,80.9 745.4,81.5 749.7,84.2 753.3,79.1 756.1,74.0 761.8,79.7 765.7,84.7 770.0,75.0 774.5,76.7 778.7,76.8 780.8,78.3 782.9,79.3 785.0,79.3 787.1,78.6 791.5,76.1 794.7,87.9 799.8,83.4 802.2,82.5 804.1,78.9 807.6,75.0 812.5,76.1 815.1,75.6 816.7,72.7 819.4,70.8 821.0,71.5 825.2,72.6 830.1,72.4 833.6,70.8 838.7,67.0 842.1,67.3 847.2,69.7 851.5,75.0 854.8,73.5 859.0,71.2 863.2,68.4 866.5,65.4 870.8,71.8 875.1,75.0 880.1,71.3 884.8,68.6 888.6,68.6 892.8,70.3 894.4,69.7 897.0,67.1 899.6,66.3 901.3,66.3 905.5,64.3 909.7,64.7 914.4,62.8 918.2,60.0 923.8,62.8 926.6,62.5 929.4,64.2 935.1,65.7 938.8,67.5 943.5,60.0 948.2,68.5 951.9,73.6 957.6,70.3 960.4,68.7 963.2,65.7 968.8,63.8 973.1,63.2 977.3,61.0 980.1,61.0 985.8,62.0 989.5,63.3 994.3,64.2 999.8,63.3 1002.7,67.1 1005.4,68.5 1006.9,69.7 1011.2,70.7 1015.4,73.5 1019.5,74.6 1023.2,66.1 1025.0,67.5 1028.1,67.8 1032.3,68.6 1036.3,70.3 1041.0,67.5 1044.7,71.3 1049.2,73.0 1053.2,72.7 1057.7,74.2 1061.9,72.7 1066.1,74.4 1070.3,73.9 1073.8,74.6 1078.8,69.0 1082.2,63.8 1087.2,70.5 1088.8,71.8 1091.5,71.8 1094.4,73.6 1101.0,71.3 1104.1,72.5 1107.6,71.8 1112.3,67.5 1117.0,66.6 1121.7,70.3 1125.3,69.6 1129.5,69.0 1133.7,70.0 1137.6,69.4 1142.3,73.6 1146.4,68.7 1150.6,66.0 1154.5,61.0 1163.3,67.5 1167.5,67.6 1171.8,64.2 1176.0,69.1 1180.2,70.5 1184.5,70.7 1188.7,69.6 1192.9,67.9 1197.1,66.5 1201.4,69.7 1205.6,70.1 1209.8,72.9 1214.0,69.5 1218.3,69.7 1222.5,70.8 1226.7,67.0 1230.9,65.8 1235.2,64.0 1239.4,61.9 1243.6,61.4 1247.9,65.0 1252.1,66.1 1256.3,68.5 1260.5,66.3 1264.8,68.2 1269.0,64.5 1273.2,64.8 1277.4,63.5 1281.7,63.9 1285.9,63.8 1290.1,67.0 1294.3,66.7 1298.6,69.3 1302.8,69.9 1307.0,67.1 1311.3,65.2 1315.5,63.4 1319.7,65.0 1323.9,66.2 1328.2,65.4 1332.4,64.4 1336.6,65.4 1340.8,65.6 1345.1,66.1 1349.3,64.4 1353.5,64.4 1357.7,66.1 1362.0,65.8 1366.2,63.5 1370.4,63.1 1374.7,62.8 1378.9,61.3 1383.1,64.7 1387.3,65.8 1391.6,66.9 1395.8,67.0 1400.0,67.6 1404.2,68.6 1408.5,69.5 1412.7,69.8 1416.9,68.7 1421.1,70.7 1425.4,71.6 1429.6,71.0 1433.8,72.4 1438.1,70.8 1442.3,69.8 1446.5,68.8" stroke="#5CFFFF" stroke-width="3.1"/>
<polyline points="181.0,1101.6 186.0,1100.0 191.9,1097.0 194.6,1044.0 197.4,953.0 199.7,819.4 202.8,784.3 213.1,767.8 214.8,754.1 216.0,716.0 218.6,678.0 221.1,652.7 224.5,637.0 228.5,641.0 233.5,662.0 236.0,661.6 241.8,574.6 245.8,641.9 250.2,588.3 254.6,597.2 258.2,601.8 262.6,590.7 267.0,546.3 271.5,530.6 274.8,520.8 280.3,561.9 284.8,495.3 288.4,512.5 290.3,520.8 292.6,521.2 297.0,525.3 302.5,510.9 305.8,477.6 309.2,485.4 314.7,444.3 318.0,447.0 322.5,493.1 325.8,442.1 331.3,438.0 336.0,417.7 339.3,414.4 343.6,437.0 347.6,424.2 350.1,414.0 351.8,410.1 356.0,404.7 357.7,401.3 360.2,388.3 364.1,370.9 368.7,384.2 372.9,398.8 378.0,363.3 381.4,358.8 385.4,351.9 389.5,364.2 393.6,346.7 397.7,370.4 402.5,345.7 406.7,326.0 409.7,312.6 415.2,324.4 418.6,330.3 423.6,321.6 427.4,317.7 432.1,294.6 433.8,284.7 436.3,298.8 440.1,322.7 444.8,303.2 446.4,294.9 449.0,291.8 454.0,289.8 457.5,283.0 461.6,272.1 465.9,259.7 469.2,251.8 474.3,252.1 478.1,221.7 482.8,244.5 487.0,238.9 491.4,235.0 495.5,236.5 499.0,236.9 504.0,229.1 505.7,227.4 508.2,231.3 511.4,233.1 517.1,210.3 520.9,215.4 524.7,223.6 529.4,204.6 534.2,217.9 537.8,217.9 541.8,215.0 546.2,210.7 548.5,210.3 550.4,203.8 553.2,191.3 558.9,198.9 562.7,202.7 566.5,187.5 571.6,171.9 574.1,166.5 575.8,169.9 578.9,174.1 584.6,166.5 588.5,176.1 591.8,186.5 595.1,161.7 596.9,161.4 600.1,159.2 604.6,168.0 609.0,147.8 613.9,154.9 615.4,157.9 618.1,161.0 621.7,161.7 626.1,170.6 630.6,150.3 635.0,157.5 638.2,164.2 643.2,144.0 647.7,147.2 649.6,147.8 651.9,145.6 656.1,146.3 661.0,144.0 664.6,148.1 668.6,155.4 673.0,148.3 676.2,145.2 681.3,140.2 686.4,137.6 689.9,134.6 694.0,128.7 698.4,132.5 702.8,133.8 706.6,126.2 711.1,124.9 713.0,124.9 715.3,127.4 718.0,131.3 719.5,129.1 723.1,121.1 728.2,128.7 732.2,123.2 734.5,118.6 736.4,117.6 739.6,118.6 744.7,123.7 749.1,128.4 752.9,130.8 757.2,123.3 761.4,119.0 766.8,122.2 770.2,121.2 774.3,117.9 778.7,121.0 782.9,125.4 787.2,117.9 791.5,120.1 795.8,112.6 800.0,116.9 804.1,119.5 807.6,120.1 810.8,113.6 812.5,113.3 815.1,110.4 816.7,109.8 821.0,110.6 825.8,109.4 829.4,108.2 833.6,109.9 837.6,108.8 843.0,112.6 846.3,111.0 850.5,111.5 853.7,110.4 859.0,110.2 862.3,111.0 867.5,113.0 870.8,113.6 875.9,114.7 879.4,114.2 884.8,110.4 888.6,108.9 892.3,108.3 897.6,113.1 900.3,113.5 906.9,108.8 909.7,110.5 913.5,111.6 918.2,113.6 921.9,116.8 926.6,114.9 929.4,114.9 935.0,107.9 938.8,114.0 944.4,106.5 947.8,110.1 951.0,112.6 955.7,106.0 960.4,108.9 963.2,111.6 967.9,105.1 973.1,106.7 977.3,106.2 981.6,106.7 983.8,107.9 985.8,107.9 990.0,105.9 994.3,106.3 998.9,105.1 1002.7,103.1 1006.4,103.2 1011.2,104.7 1014.8,104.1 1019.5,107.9 1023.8,105.2 1028.1,105.3 1029.8,104.1 1032.3,104.0 1036.5,106.2 1040.7,105.6 1043.8,106.9 1049.4,104.1 1053.4,106.0 1057.7,106.1 1061.6,107.9 1065.3,103.2 1070.0,106.9 1074.6,104.4 1077.5,101.3 1083.2,106.0 1087.2,106.2 1091.5,107.9 1095.4,107.9 1100.1,104.1 1104.1,102.1 1107.6,101.3 1112.3,105.1 1116.8,104.8 1118.8,103.2 1121.1,102.5 1125.3,104.9 1129.5,104.9 1133.7,105.5 1137.6,105.1 1142.2,103.3 1146.4,104.4 1151.7,102.3 1154.9,102.7 1158.2,102.3 1163.3,103.4 1167.5,102.1 1171.8,104.0 1176.0,104.4 1180.2,104.4 1184.5,104.9 1188.7,103.0 1192.9,101.2 1197.1,101.9 1201.4,103.5 1205.6,100.8 1209.8,102.5 1214.0,102.5 1218.3,105.5 1222.5,104.6 1226.7,104.5 1230.9,104.4 1235.2,104.2 1239.4,104.0 1243.6,103.2 1247.9,103.0 1252.1,103.6 1256.3,105.1 1260.5,103.2 1264.8,103.8 1269.0,103.2 1273.2,102.3 1277.4,103.5 1281.7,102.7 1285.9,102.4 1290.1,103.2 1294.3,102.1 1298.6,103.1 1302.8,102.8 1307.0,103.0 1311.3,102.3 1315.5,103.4 1319.7,102.9 1323.9,103.4 1328.2,103.3 1332.4,103.2 1336.6,102.7 1340.8,103.3 1345.1,101.9 1349.3,101.8 1353.5,103.0 1357.7,103.8 1362.0,104.6 1366.2,102.8 1370.4,103.0 1374.7,103.1 1378.9,102.3 1383.1,103.0 1387.3,103.2 1391.6,104.2 1395.8,104.0 1400.0,102.8 1404.2,102.8 1408.5,103.5 1412.7,104.2 1416.9,104.4 1421.1,104.8 1425.4,103.6 1429.6,104.2 1433.8,103.4 1438.1,104.0 1442.3,103.2 1446.5,104.1" stroke="#000000" stroke-width="4.7"/>
</g>
<rect x="136.5" y="18.5" width="1352" height="1088" fill="none" stroke="#000" stroke-width="5"/>
<line x1="178.5" y1="1106" x2="178.5" y2="1090.5" stroke="#000" stroke-width="5"/>
<text x="178.5" y="1160.4" font-size="47" text-anchor="middle">0</text>
<line x1="389.8" y1="1106" x2="389.8" y2="1090.5" stroke="#000" stroke-width="5"/>
<text x="389.8" y="1160.4" font-size="47" text-anchor="middle">50</text>
<line x1="601.2" y1="1106" x2="601.2" y2="1090.5" stroke="#000" stroke-width="5"/>
<text x="601.2" y="1160.4" font-size="47" text-anchor="middle">100</text>
<line x1="812.5" y1="1106" x2="812.5" y2="1090.5" stroke="#000" stroke-width="5"/>
<text x="812.5" y="1160.4" font-size="47" text-anchor="middle">150</text>
<line x1="1023.8" y1="1106" x2="1023.8" y2="1090.5" stroke="#000" stroke-width="5"/>
<text x="1023.8" y="1160.4" font-size="47" text-anchor="middle">200</text>
<line x1="1235.2" y1="1106" x2="1235.2" y2="1090.5" stroke="#000" stroke-width="5"/>
<text x="1235.2" y="1160.4" font-size="47" text-anchor="middle">250</text>
<line x1="1446.5" y1="1106" x2="1446.5" y2="1090.5" stroke="#000" stroke-width="5"/>
<text x="1446.5" y="1160.4" font-size="47" text-anchor="middle">300</text>
<text x="118.6" y="1119.5" font-size="47" text-anchor="end">0.0</text>
<line x1="137" y1="888.9" x2="152" y2="888.9" stroke="#000" stroke-width="5"/>
<text x="118.6" y="901.9" font-size="47" text-anchor="end">0.2</text>
<line x1="137" y1="671.3" x2="152" y2="671.3" stroke="#000" stroke-width="5"/>
<text x="118.6" y="684.3" font-size="47" text-anchor="end">0.4</text>
<line x1="137" y1="453.7" x2="152" y2="453.7" stroke="#000" stroke-width="5"/>
<text x="118.6" y="466.7" font-size="47" text-anchor="end">0.6</text>
<line x1="137" y1="236.1" x2="152" y2="236.1" stroke="#000" stroke-width="5"/>
<text x="118.6" y="249.1" font-size="47" text-anchor="end">0.8</text>
<text x="118.6" y="31.5" font-size="47" text-anchor="end">1.0</text>
<text x="723.9" y="1248.6" font-size="56.7">Epochs</text>
<text transform="translate(39.6,684.5) rotate(-90)" font-size="56.7">mAP@0.5</text>
<rect x="636.5" y="323.5" width="727" height="442" fill="#fff" stroke="none"/>
<g clip-path="url(#ci)" fill="none" stroke-linejoin="round" stroke-linecap="round">
<polyline points="630.8,368.3 641.0,365.0 651.3,357.8 661.5,367.1 671.8,377.8 682.0,370.7 692.3,374.2 702.6,375.0 712.8,370.0 723.1,377.8 733.3,370.0 743.6,373.5 753.9,377.4 764.1,372.5 774.4,377.4 784.6,378.8 794.9,378.2 805.1,372.5 815.4,370.2 825.7,375.0 835.9,371.1 846.2,374.2 856.4,378.5 866.7,376.4 876.9,378.8 887.2,377.1 897.5,377.8 907.7,371.1 918.0,370.2 928.2,373.5 938.5,368.5 948.8,372.1 959.0,368.5 969.3,379.2 979.5,383.9 989.8,378.2 1000.0,380.7 1010.3,378.2 1020.6,389.9 1030.8,377.4 1041.1,377.4 1051.3,381.4 1061.6,375.4 1071.8,382.1 1082.1,374.0 1092.4,370.7 1102.6,371.7 1112.9,375.9 1123.1,369.2 1133.4,379.2 1143.7,374.5 1153.9,369.2 1164.2,372.5 1174.4,373.5 1184.7,372.5 1194.9,373.1 1205.2,374.2 1215.5,375.7 1225.7,374.0 1236.0,368.2 1246.2,368.2 1256.5,366.4 1266.8,380.7 1277.0,366.4 1287.3,367.8 1297.5,370.0 1307.8,376.4 1318.0,375.0 1328.3,377.4" stroke="#FF0000" stroke-width="5"/>
<polyline points="630.8,400.6 641.0,400.6 651.3,409.9 661.5,395.9 671.8,404.9 682.0,403.1 692.3,398.9 702.6,404.9 712.8,407.8 723.1,412.5 733.3,410.2 743.6,410.6 753.9,413.0 764.1,409.5 774.4,410.2 784.6,410.2 794.9,409.2 805.1,404.6 815.4,406.3 825.7,408.8 835.9,398.5 846.2,402.8 856.4,406.8 866.7,397.5 876.9,403.5 887.2,404.9 897.5,397.5 907.7,406.3 918.0,401.6 928.2,404.9 938.5,412.8 948.8,412.5 959.0,405.6 969.3,403.5 979.5,403.5 989.8,409.6 1000.0,409.2 1010.3,400.6 1020.6,398.5 1030.8,404.2 1041.1,395.6 1051.3,395.6 1061.6,400.6 1071.8,399.9 1082.1,394.5 1092.4,398.8 1102.6,401.1 1112.9,402.8 1123.1,404.2 1133.4,403.9 1143.7,401.1 1153.9,404.2 1164.2,405.9 1174.4,405.3 1184.7,404.5 1194.9,401.1 1205.2,400.6 1215.5,399.6 1225.7,400.2 1236.0,400.6 1246.2,409.9 1256.5,407.8 1266.8,397.8 1277.0,403.5 1287.3,406.8 1297.5,408.8 1307.8,401.6 1318.0,403.2 1328.3,403.2" stroke="#B04E05" stroke-width="3.1"/>
<polyline points="630.8,437.8 641.0,439.1 651.3,441.6 661.5,445.6 671.8,449.1 682.0,441.7 692.3,442.4 702.6,446.3 712.8,449.1 723.1,454.1 733.3,437.0 743.6,448.7 753.9,444.9 764.1,452.0 774.4,450.6 784.6,445.6 794.9,444.6 805.1,440.6 815.4,431.3 825.7,427.0 835.9,430.6 846.2,444.9 856.4,444.9 866.7,444.1 876.9,447.0 887.2,447.0 897.5,442.7 907.7,435.6 918.0,451.3 928.2,453.4 938.5,428.7 948.8,447.7 959.0,437.0 969.3,445.6 979.5,450.6 989.8,453.4 1000.0,456.3 1010.3,458.4 1020.6,462.1 1030.8,457.0 1041.1,444.1 1051.3,445.3 1061.6,433.0 1071.8,441.3 1082.1,452.7 1092.4,444.1 1102.6,447.3 1112.9,441.3 1123.1,448.7 1133.4,443.9 1143.7,435.6 1153.9,424.9 1164.2,424.2 1174.4,425.3 1184.7,425.3 1194.9,435.3 1205.2,436.3 1215.5,437.3 1225.7,441.6 1236.0,442.4 1246.2,442.0 1256.5,436.3 1266.8,437.7 1277.0,444.1 1287.3,442.0 1297.5,432.7 1307.8,429.2 1318.0,434.9 1328.3,430.6" stroke="#1166D9" stroke-width="3.1"/>
<polyline points="630.8,452.7 641.0,466.2 651.3,473.4 661.5,492.6 671.8,458.4 682.0,461.3 692.3,474.8 702.6,451.3 712.8,464.1 723.1,469.8 733.3,462.7 743.6,458.4 753.9,470.5 764.1,450.6 774.4,464.1 784.6,442.0 794.9,434.2 805.1,449.1 815.4,452.7 825.7,460.5 835.9,460.5 846.2,469.1 856.4,462.7 866.7,459.1 876.9,462.4 887.2,456.3 897.5,465.2 907.7,456.7 918.0,448.4 928.2,450.6 938.5,454.1 948.8,443.0 959.0,458.1 969.3,448.4 979.5,446.3 989.8,457.0 1000.0,458.4 1010.3,445.6 1020.6,439.9 1030.8,439.1 1041.1,448.4 1051.3,440.6 1061.6,445.6 1071.8,439.9 1082.1,443.4 1092.4,429.9 1102.6,446.7 1112.9,435.6 1123.1,442.0 1133.4,442.0 1143.7,438.4 1153.9,422.0 1164.2,417.0 1174.4,415.6 1184.7,420.6 1194.9,414.2 1205.2,431.3 1215.5,442.0 1225.7,456.7 1236.0,450.6 1246.2,447.7 1256.5,452.7 1266.8,450.1 1277.0,453.4 1287.3,458.1 1297.5,457.7 1307.8,447.7 1318.0,452.7 1328.3,454.8" stroke="#33FF33" stroke-width="3.1"/>
<polyline points="630.8,458.2 641.0,463.4 651.3,465.5 661.5,465.2 671.8,452.7 682.0,449.8 692.3,450.6 702.6,465.2 712.8,459.8 723.1,447.3 733.3,453.4 743.6,455.8 753.9,448.4 764.1,453.8 774.4,457.0 784.6,458.4 794.9,459.1 805.1,457.0 815.4,454.1 825.7,450.6 835.9,452.0 846.2,459.1 856.4,458.8 866.7,465.5 876.9,474.8 887.2,477.7 897.5,481.9 907.7,477.7 918.0,462.0 928.2,465.2 938.5,466.2 948.8,469.5 959.0,460.3 969.3,459.1 979.5,459.1 989.8,459.1 1000.0,459.1 1010.3,459.1 1020.6,459.5 1030.8,459.5 1041.1,450.6 1051.3,452.7 1061.6,457.7 1071.8,465.5 1082.1,471.2 1092.4,451.3 1102.6,450.6 1112.9,460.5 1123.1,461.0 1133.4,462.0 1143.7,455.5 1153.9,453.4 1164.2,450.1 1174.4,449.6 1184.7,450.6 1194.9,450.1 1205.2,451.0 1215.5,453.4 1225.7,451.6 1236.0,453.4 1246.2,454.1 1256.5,454.1 1266.8,461.3 1277.0,481.9 1287.3,480.5 1297.5,469.1 1307.8,472.7 1318.0,467.7 1328.3,458.4" stroke="#D21AFF" stroke-width="3.1"/>
<polyline points="630.8,434.7 641.0,435.6 651.3,440.3 661.5,430.3 671.8,442.7 682.0,448.4 692.3,431.7 702.6,435.3 712.8,438.4 723.1,429.6 733.3,427.0 743.6,423.5 753.9,426.7 764.1,432.7 774.4,439.1 784.6,452.7 794.9,438.4 805.1,442.0 815.4,425.6 825.7,435.6 835.9,436.6 846.2,448.4 856.4,455.8 866.7,457.3 876.9,452.0 887.2,445.6 897.5,445.3 907.7,449.6 918.0,435.3 928.2,432.7 938.5,425.6 948.8,427.4 959.0,433.4 969.3,438.9 979.5,451.6 989.8,443.9 1000.0,437.7 1010.3,444.9 1020.6,434.2 1030.8,431.3 1041.1,427.0 1051.3,429.2 1061.6,416.3 1071.8,414.9 1082.1,412.0 1092.4,410.6 1102.6,409.9 1112.9,409.2 1123.1,411.3 1133.4,414.2 1143.7,416.7 1153.9,415.6 1164.2,415.6 1174.4,470.5 1184.7,475.2 1194.9,413.0 1205.2,415.3 1215.5,424.5 1225.7,429.2 1236.0,434.2 1246.2,440.6 1256.5,442.0 1266.8,441.0 1277.0,426.7 1287.3,427.3 1297.5,422.7 1307.8,424.2 1318.0,432.7 1328.3,418.2" stroke="#A09600" stroke-width="3.1"/>
<polyline points="630.8,468.5 641.0,477.7 651.3,478.4 661.5,458.4 671.8,486.9 682.0,495.5 692.3,496.2 702.6,489.8 712.8,479.8 723.1,472.0 733.3,490.5 743.6,492.6 753.9,509.0 764.1,489.1 774.4,490.5 784.6,496.9 794.9,474.8 805.1,467.7 815.4,457.0 825.7,444.9 835.9,442.0 846.2,462.7 856.4,469.1 866.7,483.4 876.9,470.5 887.2,481.9 897.5,459.8 907.7,462.0 918.0,454.1 928.2,456.7 938.5,455.8 948.8,474.4 959.0,473.0 969.3,488.4 979.5,491.5 989.8,475.2 1000.0,463.8 1010.3,453.4 1020.6,462.7 1030.8,470.1 1041.1,465.5 1051.3,459.1 1061.6,465.5 1071.8,466.7 1082.1,469.1 1092.4,459.1 1102.6,459.5 1112.9,469.5 1123.1,467.7 1133.4,454.1 1143.7,452.0 1153.9,449.8 1164.2,441.3 1174.4,461.3 1184.7,467.7 1194.9,474.1 1205.2,474.8 1215.5,478.4 1225.7,484.1 1236.0,489.1 1246.2,491.2 1256.5,484.8 1266.8,496.2 1277.0,501.5 1287.3,498.1 1297.5,506.2 1307.8,496.9 1318.0,491.2 1328.3,485.2" stroke="#5CFFFF" stroke-width="3.1"/>
<polyline points="630.8,685.8 641.0,688.4 651.3,681.0 661.5,692.2 671.8,694.6 682.0,694.6 692.3,697.1 702.6,686.0 712.8,675.5 723.1,679.8 733.3,689.2 743.6,673.1 753.9,683.5 764.1,683.5 774.4,700.8 784.6,695.4 794.9,695.1 805.1,694.6 815.4,693.4 825.7,692.2 835.9,687.2 846.2,686.0 856.4,689.7 866.7,698.4 876.9,687.2 887.2,690.9 897.5,687.2 907.7,682.2 918.0,689.2 928.2,684.2 938.5,682.7 948.8,687.2 959.0,681.0 969.3,686.7 979.5,684.7 989.8,686.0 1000.0,682.2 1010.3,688.4 1020.6,685.5 1030.8,688.4 1041.1,687.9 1051.3,687.2 1061.6,684.2 1071.8,687.9 1082.1,679.8 1092.4,679.3 1102.6,686.0 1112.9,690.9 1123.1,695.4 1133.4,684.7 1143.7,686.0 1153.9,686.7 1164.2,682.2 1174.4,686.0 1184.7,687.2 1194.9,693.4 1205.2,692.2 1215.5,684.7 1225.7,684.7 1236.0,689.2 1246.2,693.4 1256.5,694.6 1266.8,696.6 1277.0,689.7 1287.3,693.4 1297.5,688.4 1307.8,692.2 1318.0,687.2 1328.3,692.7" stroke="#000000" stroke-width="4.7"/>
</g>
<rect x="636.5" y="323.5" width="727" height="442" fill="none" stroke="#000" stroke-width="5"/>
<line x1="815.4" y1="765" x2="815.4" y2="749.8" stroke="#000" stroke-width="5"/>
<text x="815.4" y="818.2" font-size="47" text-anchor="middle">250</text>
<line x1="1328.3" y1="765" x2="1328.3" y2="749.8" stroke="#000" stroke-width="5"/>
<text x="1328.3" y="818.2" font-size="47" text-anchor="middle">300</text>
<line x1="637" y1="701.1" x2="652" y2="701.1" stroke="#000" stroke-width="5"/>
<text x="619.7" y="713.9" font-size="47" text-anchor="end">0.92</text>
<line x1="637" y1="573.3" x2="652" y2="573.3" stroke="#000" stroke-width="5"/>
<text x="619.7" y="586.1" font-size="47" text-anchor="end">0.94</text>
<line x1="637" y1="445.4" x2="652" y2="445.4" stroke="#000" stroke-width="5"/>
<text x="619.7" y="458.2" font-size="47" text-anchor="end">0.96</text>
<line x1="294.5" y1="916.2" x2="376.5" y2="916.2" stroke="#FF0000" stroke-width="5.2" stroke-linecap="round"/>
<text x="420.0" y="928.2" font-size="36">Ours</text>
<line x1="551.8" y1="916.2" x2="635.7" y2="916.2" stroke="#B04E05" stroke-width="3.5" stroke-linecap="butt"/>
<text x="634.5" y="928.2" font-size="36">YOLOv7_DKM</text>
<line x1="882.1" y1="916.2" x2="965.6" y2="916.2" stroke="#1166D9" stroke-width="3.5" stroke-linecap="butt"/>
<text x="965.5" y="928.2" font-size="36">YOLOv7_D</text>
<line x1="1150.8" y1="916.2" x2="1233" y2="916.2" stroke="#33FF33" stroke-width="3.5" stroke-linecap="butt"/>
<text x="1233.5" y="928.2" font-size="36">YOLOv7_M</text>
<line x1="293.7" y1="982.5" x2="377.9" y2="982.5" stroke="#D21AFF" stroke-width="3.5" stroke-linecap="butt"/>
<text x="377.0" y="994.6" font-size="36">YOLOv7_C</text>
<line x1="562" y1="982.5" x2="645.2" y2="982.5" stroke="#A09600" stroke-width="3.5" stroke-linecap="butt"/>
<text x="645.3" y="994.6" font-size="36">YOLOv7_CKM</text>
<line x1="891.3" y1="982.5" x2="974.6" y2="982.5" stroke="#5CFFFF" stroke-width="3.5" stroke-linecap="butt"/>
<text x="975.6" y="994.6" font-size="36">YOLOv7_K</text>
<line x1="1163.6" y1="983.0" x2="1244.4" y2="983.0" stroke="#000000" stroke-width="5.2" stroke-linecap="round"/>
<text x="1246.7" y="994.6" font-size="36">YOLOv7_Y</text>
</svg></body></html>
